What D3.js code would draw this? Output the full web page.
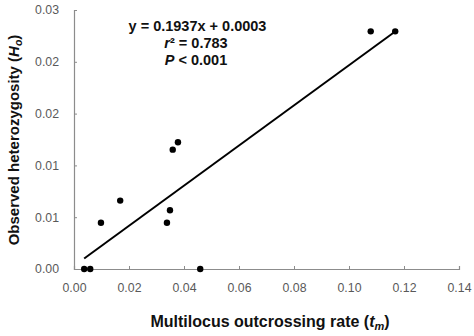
<!DOCTYPE html>
<html><head><meta charset="utf-8">
<script src="https://cdnjs.cloudflare.com/ajax/libs/d3/7.8.5/d3.min.js"></script>
<style>body{margin:0;background:#fff}svg{display:block}</style>
</head><body>
<script>
const outcrossing = [0.0037, 0.0059, 0.0098, 0.0168, 0.0338, 0.0349, 0.0359, 0.0378, 0.0459, 0.1079, 0.1168];
const heterozygosity = [0, 0, 0.00447, 0.0066, 0.00447, 0.00567, 0.01152, 0.01223, 0, 0.02294, 0.02294];
const xTicks = [0, 0.02, 0.04, 0.06, 0.08, 0.10, 0.12, 0.14];
const xTickLabels = ["0.00","0.02","0.04","0.06","0.08","0.10","0.12","0.14"];
const yTicks = [0, 0.005, 0.01, 0.015, 0.02, 0.025];
const yTickLabels = ["0.00","0.01","0.01","0.02","0.02","0.03"];
const slope = 0.1937, intercept = 0.0003;

const W = 474, H = 336;
const svg = d3.select("body").append("svg").attr("width", W).attr("height", H)
  .style("font-family", "'Liberation Sans', Arial, sans-serif");

const x = d3.scaleLinear().domain([0, 0.14]).range([74, 459]);
const y = d3.scaleLinear().domain([0, 0.025]).range([269, 10]);
const axisColor = "#8c8c8c", labelColor = "#595959";

const gx = svg.append("g").attr("transform", `translate(0,${y(0)})`)
  .call(d3.axisBottom(x).tickValues(xTicks).tickSize(-3).tickPadding(14)
    .tickFormat((d, i) => xTickLabels[i]));
const gy = svg.append("g").attr("transform", `translate(${x(0)},0)`)
  .call(d3.axisLeft(y).tickValues(yTicks).tickSize(-3).tickPadding(15)
    .tickFormat((d, i) => yTickLabels[i]));
[gx, gy].forEach(g => {
  g.select(".domain").attr("stroke", axisColor).attr("stroke-width", 1.2);
  g.selectAll(".tick line").attr("stroke", axisColor);
  g.selectAll(".tick text").attr("fill", labelColor).attr("font-size", 12.3)
    .attr("font-family", "'Liberation Sans', Arial, sans-serif");
});

// regression line
const x0 = d3.min(outcrossing), x1 = d3.max(outcrossing);
svg.append("line")
  .attr("x1", x(x0)).attr("y1", y(slope * x0 + intercept))
  .attr("x2", x(x1)).attr("y2", y(slope * x1 + intercept))
  .attr("stroke", "#000").attr("stroke-width", 2);

// points
svg.append("g").selectAll("circle").data(outcrossing).join("circle")
  .attr("cx", d => x(d)).attr("cy", (d, i) => y(heterozygosity[i]))
  .attr("r", 3.2).attr("fill", "#000");

// annotation
const ann = svg.append("text").attr("font-size", 14.5).attr("font-weight", "bold")
  .attr("text-anchor", "middle").attr("fill", "#111");
ann.append("tspan").attr("x", 197.5).attr("y", 31).text("y = 0.1937x + 0.0003");
const l2 = ann.append("tspan").attr("x", 196).attr("y", 47.5);
l2.append("tspan").attr("font-style", "italic").text("r");
l2.append("tspan").text("² = 0.783");
const l3 = ann.append("tspan").attr("x", 196).attr("y", 64.5);
l3.append("tspan").attr("font-style", "italic").text("P");
l3.append("tspan").text(" < 0.001");

// axis titles
const xt = svg.append("text").attr("x", 270).attr("y", 327).attr("text-anchor", "middle")
  .attr("font-size", 16).attr("font-weight", "bold").attr("fill", "#111");
xt.append("tspan").text("Multilocus outcrossing rate (");
xt.append("tspan").attr("font-style", "italic").text("t");
xt.append("tspan").attr("font-style", "italic").attr("font-size", 11).attr("dy", 3).text("m");
xt.append("tspan").attr("dy", -3).text(")");

const yt = svg.append("text").attr("transform", "translate(18.5,140) rotate(-90)")
  .attr("text-anchor", "middle").attr("font-size", 15).attr("font-weight", "bold").attr("fill", "#111");
yt.append("tspan").text("Observed heterozygosity (");
yt.append("tspan").attr("font-style", "italic").text("H");
yt.append("tspan").attr("font-style", "italic").attr("font-size", 10.5).attr("dy", 3).text("o");
yt.append("tspan").attr("dy", -3).text(")");
</script>
</body></html>
